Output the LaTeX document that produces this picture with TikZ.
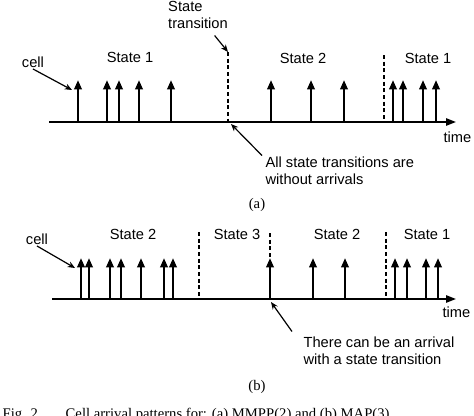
\documentclass[tikz,border=0pt]{standalone}
\usepackage{fontspec}
\setmainfont{Liberation Serif}
\setsansfont{Liberation Sans}
\usetikzlibrary{arrows.meta}

\tikzset{
  lbl/.style={font=\sffamily\fontsize{11}{12.75}\selectfont, inner sep=1pt},
  sublbl/.style={font=\fontsize{11}{12}\selectfont, inner sep=1pt},
  arrival/.style={line width=1.7pt, -{Triangle[length=7pt,width=5.5pt]}},
  timeaxis/.style={line width=1.3pt, -{Triangle[length=7.5pt,width=5.5pt]}},
  pointer/.style={line width=0.9pt, -{Stealth[length=5.5pt,width=4.5pt]}},
  boundary/.style={line width=1.1pt, dash pattern=on 3pt off 2pt},
}

\begin{document}
\begin{tikzpicture}[x=0.75pt,y=-0.75pt]
  \useasboundingbox (0,0) rectangle (474,415);

  % (a) MMPP(2)
  \coordinate (a0) at (49,122);
  \coordinate (a1) at (456,122);
  \draw[timeaxis] (a0) -- (a1);
  \foreach \x in {78,107,119,139,171,271,311,344,393,403,423,436}
    \draw[arrival] (\x,122) -- (\x,80);

  \coordinate (ta) at (228,122);
  \coordinate (ta top) at (228,52);
  \draw[boundary] (ta top) -- (ta);
  \draw[boundary] (384,55) -- (384,122);

  \node[lbl] (cellA) at (33,62) {cell};
  \coordinate (cellA tip) at (72,90);
  \node[lbl] at (130,57) {State 1};
  \node[lbl] at (303,58) {State 2};
  \node[lbl] at (428,58) {State 1};
  \node[lbl, align=left] (transA) at (198,15) {State\\transition};
  \node[lbl, anchor=west] at (442,137) {time};
  \node[lbl, align=left, anchor=west] (noteA) at (264,171) {All state transitions are\\without arrivals};

  \draw[pointer] (cellA.south) -- (cellA tip);
  \draw[pointer, shorten <=5pt] (transA) -- (ta top);
  \draw[pointer] ([shift={(-2,0)}]noteA.north west) -- ([shift={(3,2)}]ta);

  \node[sublbl] at (257,205) {(a)};

  % (b) MAP(3)
  \coordinate (b0) at (52,299);
  \coordinate (b1) at (456,299);
  \draw[timeaxis] (b0) -- (b1);
  \foreach \x in {81,89,110,121,141,164,173,270,313,345,395,407,426,438}
    \draw[arrival] (\x,299) -- (\x,258);

  \coordinate (tb) at (270,299);
  \draw[boundary] (199,232) -- (199,299);
  \draw[boundary] (270,233) -- (270,258);
  \draw[boundary] (386,232) -- (386,299);

  \node[lbl] (cellB) at (37,239) {cell};
  \coordinate (cellB tip) at (75,268);
  \node[lbl] at (133,234) {State 2};
  \node[lbl] at (237,234) {State 3};
  \node[lbl] at (337,234) {State 2};
  \node[lbl] at (427,234) {State 1};
  \node[lbl, anchor=west] at (441,312) {time};
  \node[lbl, align=left, anchor=west] (noteB) at (302,351) {There can be an arrival\\with a state transition};

  \draw[pointer] (cellB.south) -- (cellB tip);
  \draw[pointer] ([shift={(-10,-4)}]noteB.north west) -- ([shift={(1,3)}]tb);

  \node[sublbl] at (257,387) {(b)};

  % caption, cut off at the bottom edge as in the source
  \node[sublbl, anchor=base west] at (1,418) {Fig. 2.\hspace{18pt}Cell arrival patterns for: (a) MMPP(2) and (b) MAP(3).};
\end{tikzpicture}
\end{document}
